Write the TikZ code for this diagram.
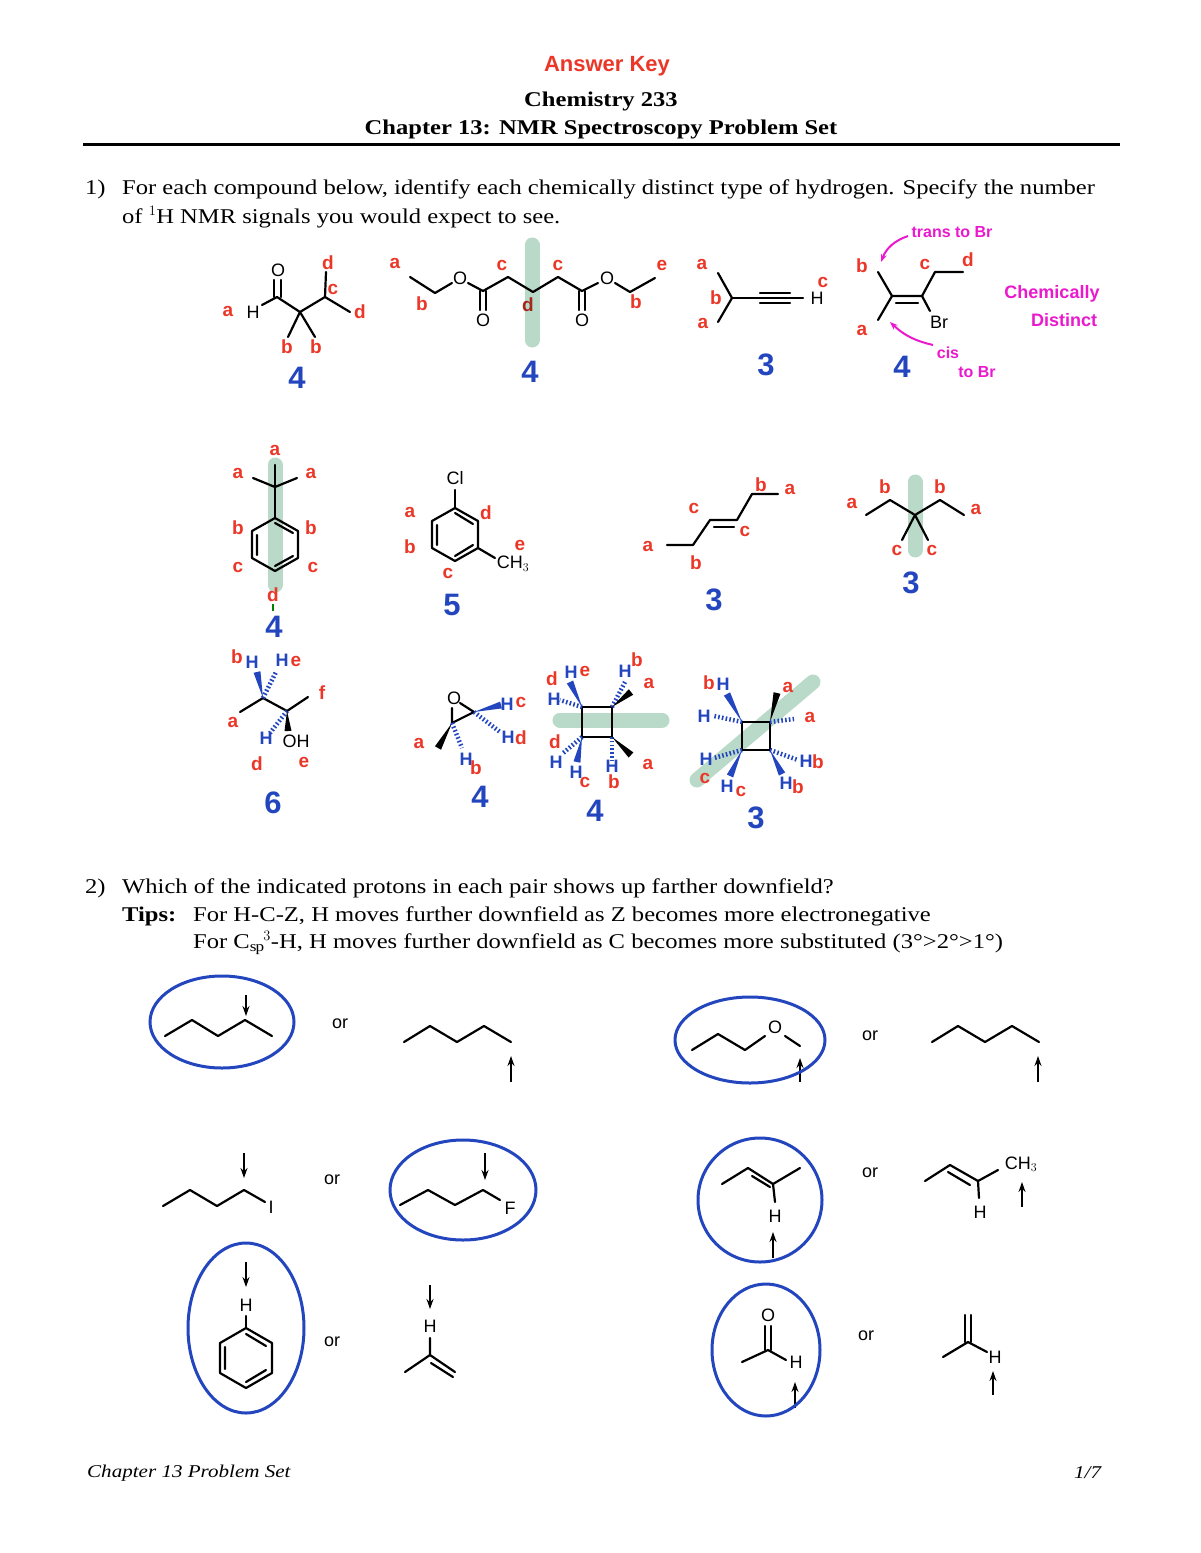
\documentclass[tikz,border=0pt]{standalone}
\usepackage{fontspec}
\setmainfont{Liberation Serif}[FakeStretch=1.17]
\newfontfamily\hand{Liberation Sans}
\usetikzlibrary{calc,arrows.meta}
\definecolor{rd}{RGB}{235,55,40}
\definecolor{bl}{RGB}{35,70,190}
\definecolor{mg}{RGB}{235,25,205}
\definecolor{gr}{RGB}{185,218,200}
\newcommand\wdg[3][black]{\fill[#1] (#2) -- ($(#3)!3.5pt!90:(#2)$) -- ($(#3)!3.5pt!-90:(#2)$) -- cycle;}
\newcommand\hsh[3][black]{\draw[#1,line width=4.5pt,dash pattern=on 1.6pt off 2.2pt] (#2)--(#3);}
\begin{document}
\begin{tikzpicture}[x=1pt,y=-1pt,
 bd/.style={line width=2.2pt,line cap=round,line join=round},
 lb/.style={text=rd,font=\hand\bfseries\fontsize{19}{19}\selectfont,inner sep=0},
 hb/.style={text=bl,font=\hand\bfseries\fontsize{18}{18}\selectfont,inner sep=0},
 ct/.style={text=bl,font=\hand\bfseries\fontsize{31}{31}\selectfont,inner sep=0},
 atm/.style={font=\hand\fontsize{18}{18}\selectfont,inner sep=0},
 tx/.style={font=\fontsize{21}{24}\selectfont,anchor=west,inner sep=0},
 mt/.style={text=mg,font=\hand\bfseries\fontsize{16}{16}\selectfont,inner sep=0},
 ring/.style={line width=3pt,draw=bl},
 gbar/.style={gr,line width=15pt,line cap=round},
 ar/.style={line width=1.6pt,-{Stealth[length=10pt,width=7pt]}}]
\useasboundingbox[fill=white] (0,0) rectangle (1200,1553);
% header
\node[text=rd,font=\hand\bfseries\fontsize{22}{22}\selectfont] (ak) at (607,66) {Answer Key};
\node[font=\bfseries\fontsize{21}{24}\selectfont] (ch) at (601,101) {Chemistry 233};
\node[font=\bfseries\fontsize{21}{24}\selectfont] (c13) at (601,129) {Chapter 13: NMR Spectroscopy Problem Set};
\draw[line width=3pt] (83,144) -- (1120,144);
\node[tx] (q1n) at (85,189) {1)};
\node[tx] (q1a) at (122,189) {For each compound below, identify each chemically distinct type of hydrogen. Specify the number};
\node[tx] (q1b) at (122,217) {of $^{1}$H NMR signals you would expect to see.};
% mol 1
\draw[bd] (262,305)--(277,297)--(300,312)--(288,337);
\draw[bd] (300,312)--(315,337); \draw[bd] (300,312)--(325,297)--(326,272); \draw[bd] (325,297)--(350,312);
\draw[bd] (274,297)--(274,280); \draw[bd] (281,297)--(281,280);
\node[atm] (o1) at (278,270) {O}; \node[atm] (h1) at (253,312) {H};
\node[lb] at (228,311){a}; \node[lb] at (328,263){d}; \node[lb] at (333,289){c}; \node[lb] at (360,312){d};
\node[lb] at (287,347){b}; \node[lb] at (316,347){b}; \node[ct] at (297,378){4};
% mol 2
\draw[gbar] (532,245)--(532,340);
\draw[bd] (410,277)--(435,293)--(452,283); \draw[bd] (468,283)--(483,291)--(508,277)--(533,292)--(558,277)--(582,291)--(598,283);
\draw[bd] (615,283)--(630,292)--(655,278);
\draw[bd] (480,291)--(480,310); \draw[bd] (486,291)--(486,310); \draw[bd] (579,291)--(579,310); \draw[bd] (585,291)--(585,310);
\node[atm] at (460,278){O}; \node[atm] at (483,320){O}; \node[atm] at (607,278){O}; \node[atm] at (582,320){O};
\node[lb] at (395,263){a}; \node[lb] at (422,304){b}; \node[lb] at (502,265){c}; \node[lb,text=rd!70!black] at (528,305){d};
\node[lb] at (558,265){c}; \node[lb] at (662,265){e}; \node[lb] at (636,302){b}; \node[ct] at (530,372){4};
% mol 3
\draw[bd] (718,273)--(732,298)--(718,322); \draw[bd] (732,298)--(803,298);
\draw[bd] (760,293)--(790,293); \draw[bd] (760,303)--(790,303);
\node[atm] at (817,298){H};
\node[lb] at (702,264){a}; \node[lb] at (716,298){b}; \node[lb] at (703,323){a}; \node[lb] at (823,282){c};
\node[ct] at (766,365){3};
% mol 4
\draw[bd] (878,272)--(892,296)--(878,320); \draw[bd] (892,296)--(922,296)--(935,272)--(963,272); \draw[bd] (922,296)--(930,311);
\draw[bd] (896,303)--(918,303);
\node[atm] at (939,322){Br};
\node[lb] at (862,266){b}; \node[lb] at (925,264){c}; \node[lb] at (968,260){d}; \node[lb] at (862,330){a};
\node[ct] at (902,367){4};
\node[mt] at (952,232){trans to Br};
\draw[mg,line width=2pt,-{Stealth[length=8pt]}] (908,236) to[bend right=25] (881,262);
\node[mt] at (948,353){cis}; \node[mt] at (977,372){to Br};
\draw[mg,line width=2pt,-{Stealth[length=8pt]}] (933,345) to[bend right=-15] (890,322);
\node[mt,font=\hand\bfseries\fontsize{18}{18}\selectfont] at (1052,294){Chemically};
\node[mt,font=\hand\bfseries\fontsize{18}{18}\selectfont] at (1064,320){Distinct};
% row 2: tert-butylbenzene
\draw[gbar] (275,465)--(275,585);
\draw[bd] (275,518)--(298,531)--(298,558)--(275,571)--(252,558)--(252,531)--cycle;
\draw[bd] (257,535)--(257,555) (275,566)--(293,556) (275,523)--(293,533);
\draw[bd] (275,518)--(275,487)--(275,465); \draw[bd] (275,487)--(253,478); \draw[bd] (275,487)--(297,478);
\node[lb] at (275,450){a}; \node[lb] at (238,473){a}; \node[lb] at (311,473){a};
\node[lb] at (238,528){b}; \node[lb] at (311,528){b}; \node[lb] at (238,567){c}; \node[lb] at (313,567){c};
\node[lb] at (273,595){d}; \draw[green!50!black,line width=2pt] (273,604)--(273,611);
\node[ct] at (274,627){4};
% chlorotoluene
\draw[bd] (455,508)--(478,521)--(478,548)--(455,561)--(432,548)--(432,521)--cycle;
\draw[bd] (437,525)--(437,545) (455,556)--(473,545) (455,513)--(473,524);
\draw[bd] (455,508)--(455,490); \draw[bd] (478,548)--(495,558);
\node[atm] at (455,478){Cl}; \node[atm] at (513,564){CH$_3$};
\node[lb] at (410,512){a}; \node[lb] at (486,513){d}; \node[lb] at (410,547){b}; \node[lb] at (520,545){e}; \node[lb] at (448,573){c};
\node[ct] at (452,605){5};
% hexene
\draw[bd] (667,545)--(693,545)--(710,520)--(737,520)--(752,494)--(778,494);
\draw[bd] (714,527)--(734,527);
\node[lb] at (648,546){a}; \node[lb] at (696,563){b}; \node[lb] at (694,508){c}; \node[lb] at (745,531){c};
\node[lb] at (761,485){b}; \node[lb] at (790,489){a}; \node[ct] at (714,600){3};
% dimethylpentane
\draw[gbar] (915,482)--(915,550);
\draw[bd] (866,515)--(890,500)--(915,515)--(940,500)--(964,515); \draw[bd] (915,515)--(902,540); \draw[bd] (915,515)--(928,540);
\node[lb] at (852,503){a}; \node[lb] at (885,487){b}; \node[lb] at (940,487){b}; \node[lb] at (976,509){a};
\node[lb] at (897,550){c}; \node[lb] at (932,550){c}; \node[ct] at (911,583){3};
% row 3 mol A
\draw[bd] (240,712)--(263,698)--(287,711)--(308,697);
\wdg[bl]{263,698}{257,672} \hsh[bl]{263,698}{276,672} \hsh[bl]{287,711}{270,733} \wdg{287,711}{288,731}
\node[hb] at (252,662){H}; \node[lb] at (237,657){b}; \node[hb] at (282,660){H}; \node[lb] at (296,661){e};
\node[lb] at (322,693){f}; \node[lb] at (233,722){a}; \node[hb] at (266,738){H}; \node[atm] at (296,741){OH};
\node[lb] at (257,764){d}; \node[lb] at (304,762){e}; \node[ct] at (273,803){6};
% mol B epoxide
\draw[bd] (452,708)--(452,723)--(474,712)--(460,703);
\node[atm] at (454,698){O};
\wdg{452,723}{438,748} \hsh[bl]{452,723}{462,748} \wdg[bl]{474,712}{501,705} \hsh[bl]{474,712}{500,732}
\node[lb] at (419,743){a}; \node[hb] at (466,759){H}; \node[lb] at (476,768){b};
\node[hb] at (507,704){H}; \node[lb] at (521,702){c}; \node[hb] at (508,737){H}; \node[lb] at (521,738){d};
\node[ct] at (480,797){4};
% mol C
\draw[gbar] (560,720)--(662,720);
\draw[bd] (582,707) rectangle (612,737);
\wdg[bl]{582,707}{570,682} \hsh[bl]{582,707}{560,700} \hsh[bl]{612,707}{625,682} \wdg{612,707}{631,692}
\hsh[bl]{582,737}{562,754} \wdg[bl]{582,737}{577,762} \hsh[bl]{612,737}{612,760} \wdg{612,737}{631,755}
\node[hb] at (571,672){H}; \node[lb] at (585,671){e}; \node[lb] at (552,679){d}; \node[hb] at (554,699){H};
\node[hb] at (625,671){H}; \node[lb] at (637,660){b}; \node[lb] at (649,683){a};
\node[lb] at (555,742){d}; \node[hb] at (556,762){H}; \node[hb] at (576,772){H}; \node[lb] at (585,782){c};
\node[hb] at (612,766){H}; \node[lb] at (614,782){b}; \node[lb] at (648,764){a}; \node[ct] at (595,811){4};
% mol D
\draw[gbar] (697,780)--(813,682);
\draw[bd] (742,722) rectangle (770,750);
\wdg[bl]{742,722}{727,694} \hsh[bl]{742,722}{714,716} \wdg{770,722}{777,693} \hsh[bl]{770,722}{794,719}
\hsh[bl]{742,750}{714,758} \wdg[bl]{742,750}{730,776} \hsh[bl]{770,750}{798,760} \wdg[bl]{770,750}{782,774}
\node[lb] at (709,683){b}; \node[hb] at (723,684){H}; \node[hb] at (704,716){H};
\node[lb] at (788,687){a}; \node[lb] at (810,717){a};
\node[hb] at (706,759){H}; \node[lb] at (705,778){c}; \node[hb] at (727,786){H}; \node[lb] at (741,791){c};
\node[hb] at (806,761){H}; \node[lb] at (818,762){b}; \node[hb] at (786,783){H}; \node[lb] at (798,787){b};
\node[ct] at (756,818){3};
% section 2
\node[tx] at (85,888){2)};
\node[tx] at (122,888){Which of the indicated protons in each pair shows up farther downfield?};
\node[tx] at (122,916){\textbf{Tips:}};
\node[tx] at (193,916){For H-C-Z, H moves further downfield as Z becomes more electronegative};
\node[tx] at (193,943){For C$_{\mathrm{sp}}$$^{3}$-H, H moves further downfield as C becomes more substituted (3°>2°>1°)};
% pair 1
\draw[bd] (165,1036)--(192,1020)--(218,1036)--(245,1020)--(272,1036);
\draw[ar] (246,995)--(246,1016);
\draw[ring] (222,1022) ellipse (72 and 46);
\node[atm] at (340,1024){or};
\draw[bd] (404,1042)--(430,1026)--(457,1042)--(484,1026)--(511,1042);
\draw[ar] (511,1082)--(511,1056);
% pair 2
\draw[bd] (692,1050)--(718,1034)--(745,1050)--(765,1036); \draw[bd] (785,1036)--(800,1046);
\node[atm] at (775,1027){O};
\draw[ar] (800,1082)--(800,1058);
\draw[ring] (750,1040) ellipse (75 and 43);
\node[atm] at (870,1036){or};
\draw[bd] (932,1042)--(958,1026)--(985,1042)--(1012,1026)--(1039,1042);
\draw[ar] (1038,1082)--(1038,1056);
% pair 3
\draw[bd] (163,1206)--(190,1190)--(217,1206)--(244,1190)--(265,1202);
\node[atm] at (271,1207){I};
\draw[ar] (244,1153)--(244,1178);
\node[atm] at (332,1180){or};
\draw[bd] (400,1205)--(428,1190)--(455,1205)--(483,1190)--(500,1200);
\node[atm] at (510,1208){F};
\draw[ar] (485,1153)--(485,1180);
\draw[ring] (463,1190) ellipse (73 and 50);
% pair 4
\draw[bd] (722,1184)--(748,1168)--(773,1184)--(800,1168); \draw[bd] (752,1176)--(770,1187);
\draw[bd] (773,1184)--(775,1202);
\node[atm] at (775,1216){H};
\draw[ar] (773,1258)--(773,1232);
\draw[ring] (760,1200) ellipse (62 and 62);
\node[atm] at (870,1173){or};
\draw[bd] (925,1181)--(950,1165)--(978,1181)--(998,1170); \draw[bd] (948,1172)--(970,1185);
\draw[bd] (978,1181)--(979,1198);
\node[atm] at (980,1212){H}; \node[atm] at (1021,1164){CH$_3$};
\draw[ar] (1022,1207)--(1022,1182);
% pair 5
\node[atm] at (246,1305){H};
\draw[bd] (246,1316)--(246,1328);
\draw[bd] (246,1328)--(272,1343)--(272,1373)--(246,1388)--(220,1373)--(220,1343)--cycle;
\draw[bd] (225,1347)--(225,1369) (246,1382)--(266,1370) (246,1334)--(266,1346);
\draw[ar] (246,1262)--(246,1287);
\draw[ring] (246,1328) ellipse (58 and 85);
\node[atm] at (332,1342){or};
\node[atm] at (430,1326){H};
\draw[ar] (430,1285)--(430,1309);
\draw[bd] (430,1338)--(430,1355)--(405,1372); \draw[bd] (430,1355)--(455,1372); \draw[bd] (431,1363)--(453,1377);
% pair 6
\node[atm] at (768,1315){O};
\draw[bd] (765,1326)--(765,1350); \draw[bd] (771,1326)--(771,1350);
\draw[bd] (742,1362)--(768,1350)--(786,1360);
\node[atm] at (796,1362){H};
\draw[ar] (795,1408)--(795,1382);
\draw[ring] (766,1350) ellipse (54 and 66);
\node[atm] at (866,1336){or};
\draw[bd] (943,1357)--(968,1342)--(987,1352); \draw[bd] (965,1342)--(965,1315); \draw[bd] (971,1342)--(971,1315);
\node[atm] at (995,1357){H};
\draw[ar] (993,1395)--(993,1371);
% footer
\node[tx,font=\itshape\fontsize{18}{20}\selectfont] at (87,1473){Chapter 13 Problem Set};
\node[tx,font=\itshape\fontsize{18}{20}\selectfont] at (1074,1473){1/7};
\end{tikzpicture}
\end{document}
